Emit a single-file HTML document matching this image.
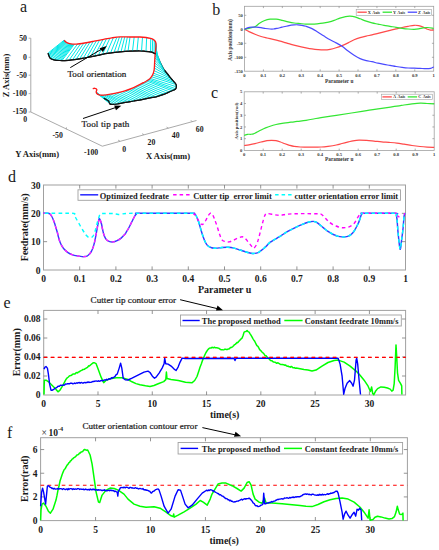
<!DOCTYPE html><html><head><meta charset="utf-8"><style>html,body{margin:0;padding:0;background:#fff;}svg{display:block;}</style></head><body>
<svg width="439" height="550" viewBox="0 0 439 550" style="font-family:'Liberation Serif',serif">
<rect width="439" height="550" fill="#fff"/>
<text x="20" y="12" font-size="16" font-weight="normal" text-anchor="start" fill="#1a1a1a" >a</text>
<polyline points="30.8,38.2 30.8,112 102.3,146.2 196.5,120.5" fill="none" stroke="#a0a0a0" stroke-width="0.9"/>
<line x1="30.8" y1="38.2" x2="28.6" y2="38.2" stroke="#a0a0a0" stroke-width="0.8"/>
<line x1="30.8" y1="57.3" x2="28.6" y2="57.3" stroke="#a0a0a0" stroke-width="0.8"/>
<line x1="30.8" y1="75.2" x2="28.6" y2="75.2" stroke="#a0a0a0" stroke-width="0.8"/>
<line x1="30.8" y1="93.6" x2="28.6" y2="93.6" stroke="#a0a0a0" stroke-width="0.8"/>
<line x1="30.8" y1="112" x2="28.6" y2="112" stroke="#a0a0a0" stroke-width="0.8"/>
<line x1="66.4" y1="129.3" x2="66.4" y2="127.30000000000001" stroke="#a0a0a0" stroke-width="0.8"/>
<line x1="120" y1="141.1" x2="118" y2="140.1" stroke="#a0a0a0" stroke-width="0.8"/>
<line x1="144" y1="134.7" x2="142" y2="133.7" stroke="#a0a0a0" stroke-width="0.8"/>
<line x1="168.5" y1="128.1" x2="166.5" y2="127.1" stroke="#a0a0a0" stroke-width="0.8"/>
<line x1="192.7" y1="121.6" x2="190.7" y2="120.6" stroke="#a0a0a0" stroke-width="0.8"/>
<text x="27" y="41" font-size="7.8" font-weight="bold" text-anchor="end" fill="#1a1a1a" >50</text>
<text x="27" y="60" font-size="7.8" font-weight="bold" text-anchor="end" fill="#1a1a1a" >0</text>
<text x="27" y="77.6" font-size="7.8" font-weight="bold" text-anchor="end" fill="#1a1a1a" >-50</text>
<text x="27" y="96.2" font-size="7.8" font-weight="bold" text-anchor="end" fill="#1a1a1a" >-100</text>
<text x="27" y="114" font-size="7.8" font-weight="bold" text-anchor="end" fill="#1a1a1a" >-150</text>
<text x="25.1" y="121.6" font-size="7.8" font-weight="bold" text-anchor="middle" fill="#1a1a1a" >0</text>
<text x="57.6" y="138.4" font-size="7.8" font-weight="bold" text-anchor="middle" fill="#1a1a1a" >-50</text>
<text x="91.1" y="154.9" font-size="7.8" font-weight="bold" text-anchor="middle" fill="#1a1a1a" >-100</text>
<text x="124.3" y="151.6" font-size="7.8" font-weight="bold" text-anchor="middle" fill="#1a1a1a" >0</text>
<text x="151.4" y="144.9" font-size="7.8" font-weight="bold" text-anchor="middle" fill="#1a1a1a" >20</text>
<text x="175.7" y="138.4" font-size="7.8" font-weight="bold" text-anchor="middle" fill="#1a1a1a" >40</text>
<text x="199.7" y="131.6" font-size="7.8" font-weight="bold" text-anchor="middle" fill="#1a1a1a" >60</text>
<text x="0" y="0" font-size="8.6" font-weight="bold" fill="#1a1a1a" text-anchor="middle" transform="translate(9.3,75.5) rotate(-90)">Z Axis(mm)</text>
<text x="37.2" y="157" font-size="8.6" font-weight="bold" text-anchor="middle" fill="#1a1a1a" >Y Axis(mm)</text>
<text x="168" y="158.6" font-size="8.6" font-weight="bold" text-anchor="middle" fill="#1a1a1a" >X Axis(mm)</text>
<path d="M48.10,53.10 C48.27,53.60 48.68,55.18 49.10,56.10 C49.52,57.02 49.77,57.97 50.60,58.60 C51.43,59.23 52.53,59.58 54.10,59.90 C55.67,60.22 57.65,60.43 60.00,60.50 C62.35,60.57 65.47,60.48 68.20,60.30 C70.93,60.12 73.67,59.78 76.40,59.40 C79.13,59.02 81.87,58.50 84.60,58.00 C87.33,57.50 90.07,56.97 92.80,56.40 C95.53,55.83 98.27,55.13 101.00,54.60 C103.73,54.07 106.03,53.65 109.20,53.20 C112.37,52.75 116.53,52.23 120.00,51.90 C123.47,51.57 126.67,51.35 130.00,51.20 C133.33,51.05 137.50,50.98 140.00,51.00 C142.50,51.02 143.25,51.15 145.00,51.30 C146.75,51.45 149.08,51.65 150.50,51.90 C151.92,52.15 152.65,52.45 153.50,52.80 C154.35,53.15 154.97,53.47 155.60,54.00 C156.23,54.53 156.75,55.12 157.30,56.00 C157.85,56.88 158.37,58.13 158.90,59.30 C159.43,60.47 159.95,61.83 160.50,63.00 C161.05,64.17 161.52,65.07 162.20,66.30 C162.88,67.53 163.65,69.03 164.60,70.40 C165.55,71.77 166.80,73.13 167.90,74.50 C169.00,75.87 170.18,77.38 171.20,78.60 C172.22,79.82 173.22,80.85 174.00,81.80 C174.78,82.75 175.50,83.48 175.90,84.30 C176.30,85.12 176.47,85.92 176.40,86.70 C176.33,87.48 176.23,88.32 175.50,89.00 C174.77,89.68 173.42,90.13 172.00,90.80 C170.58,91.47 168.40,92.40 167.00,93.00 C165.60,93.60 165.43,93.77 163.60,94.40 C161.77,95.03 158.27,96.23 156.00,96.80 C153.73,97.37 152.35,97.33 150.00,97.80 C147.65,98.27 144.62,99.07 141.90,99.60 C139.18,100.13 136.43,100.55 133.70,101.00 C130.97,101.45 128.23,101.80 125.50,102.30 C122.77,102.80 119.57,103.65 117.30,104.00 C115.03,104.35 113.15,104.45 111.90,104.40 C110.65,104.35 110.37,104.27 109.80,103.70 C109.23,103.13 109.07,101.68 108.50,101.00 C107.93,100.32 107.20,100.07 106.40,99.60 C105.60,99.13 104.15,98.43 103.70,98.20" fill="none" stroke="#111" stroke-width="1.25" stroke-linejoin="round"/>
<path d="M48.10,53.10L64.10,40.20 M48.42,54.06L64.55,40.60 M48.74,55.02L65.00,41.00 M49.06,55.98L65.45,41.40 M49.56,56.86L65.90,41.80 M50.08,57.73L66.35,42.20 M50.60,58.60L66.80,42.60 M51.81,59.05L67.64,42.87 M53.03,59.50L68.47,43.13 M54.25,59.92L69.31,43.40 M55.54,60.05L70.15,43.66 M56.83,60.18L70.99,43.90 M58.12,60.31L71.87,43.94 M59.41,60.44L72.74,43.97 M60.70,60.48L73.62,44.00 M62.00,60.45L74.50,44.03 M65.52,60.37L77.63,43.93 M69.04,60.21L80.75,43.52 M72.54,59.82L83.87,43.10 M76.04,59.44L86.97,42.56 M79.64,58.85L90.12,41.97 M83.24,58.23L93.27,41.38 M86.83,57.56L96.41,40.76 M90.42,56.87L99.55,40.13 M94.43,56.04L103.00,39.44 M98.43,55.16L106.46,38.80 M102.45,54.35L109.92,38.16 M106.48,53.66L113.40,37.63 M110.53,53.04L116.89,37.25 M114.02,52.62L119.50,36.96 M117.51,52.20L122.12,36.92 M121.00,51.83L124.75,36.95 M124.50,51.59L127.37,36.97 M128.00,51.34L130.00,37.00 M132.51,51.15L134.17,37.00 M137.01,51.06L138.34,37.00 M141.52,51.09L142.50,37.21 M146.02,51.41L146.65,37.63 M150.50,51.90L150.72,38.49 M152.27,52.43L152.65,39.26 M153.99,53.08L154.34,40.40 M155.60,54.00L155.51,42.03 M156.17,54.67L155.89,43.32 M156.73,55.33L156.00,44.65 M157.30,56.00L156.00,46.00 M158.31,58.09L155.82,47.95 M159.29,60.20L155.62,49.90 M160.21,62.33L155.40,51.85 M161.23,64.41L155.22,53.80 M162.30,66.47L155.07,55.76 M163.47,68.47L154.92,57.71 M164.85,70.71L154.77,60.29 M166.49,72.75L154.61,62.87 M168.14,74.80L154.45,65.45 M169.78,76.84L154.29,68.03 M171.44,78.88L153.90,70.57 M173.17,80.85L153.20,73.06 M174.63,82.63L152.47,74.97 M175.94,84.51L151.27,76.66 M176.37,86.77L150.07,78.35 M175.60,88.73L148.96,79.28 M173.88,89.83L147.78,80.14 M172.00,90.80L146.60,81.00 M169.39,91.95L144.71,82.09 M166.78,93.09L142.75,83.03 M164.14,94.18L140.79,83.97 M161.44,95.08L138.85,84.96 M158.72,95.94L136.91,85.95 M156.00,96.80L134.97,86.95 M153.24,97.26L133.04,87.84 M150.48,97.72L131.04,88.58 M147.74,98.30L129.04,89.32 M145.01,98.91L127.04,90.05 M142.28,99.52L125.04,90.79 M139.49,100.01L122.23,91.57 M136.70,100.49L119.39,92.25 M133.90,100.97L116.55,92.93 M131.10,101.41L113.70,93.55 M128.30,101.86L110.82,94.05 M125.50,102.30L107.94,94.54 M122.82,102.86L106.27,94.81 M120.14,103.41L104.59,94.93 M117.46,103.97L102.91,95.05 M114.73,104.19L101.22,95.18 M112.00,104.39L99.60,94.78 M109.67,103.43L98.30,94.36 M108.54,101.08L97.22,93.66 M106.40,99.60L96.47,92.52 M105.05,98.90L96.34,92.31 M103.70,98.20L96.20,92.10" stroke="#00e8e8" stroke-width="1.0" fill="none"/>
<path d="M64.10,40.20 C64.55,40.60 65.67,41.98 66.80,42.60 C67.93,43.22 69.30,43.65 70.90,43.90 C72.50,44.15 74.12,44.25 76.40,44.10 C78.68,43.95 81.63,43.48 84.60,43.00 C87.57,42.52 91.02,41.82 94.20,41.20 C97.38,40.58 100.75,39.87 103.70,39.30 C106.65,38.73 109.18,38.20 111.90,37.80 C114.62,37.40 116.98,37.03 120.00,36.90 C123.02,36.77 126.67,36.98 130.00,37.00 C133.33,37.02 137.33,36.92 140.00,37.00 C142.67,37.08 144.25,37.27 146.00,37.50 C147.75,37.73 149.25,38.05 150.50,38.40 C151.75,38.75 152.70,39.12 153.50,39.60 C154.30,40.08 154.88,40.62 155.30,41.30 C155.72,41.98 155.88,42.92 156.00,43.70 C156.12,44.48 156.03,45.25 156.00,46.00 C155.97,46.75 155.92,47.07 155.80,48.20 C155.68,49.33 155.45,51.17 155.30,52.80 C155.15,54.43 155.00,56.57 154.90,58.00 C154.80,59.43 154.82,59.48 154.70,61.40 C154.58,63.32 154.52,67.32 154.20,69.50 C153.88,71.68 153.52,72.98 152.80,74.50 C152.08,76.02 150.93,77.52 149.90,78.60 C148.87,79.68 147.58,80.35 146.60,81.00 C145.62,81.65 144.78,82.10 144.00,82.50 C143.22,82.90 143.62,82.55 141.90,83.40 C140.18,84.25 136.65,86.32 133.70,87.60 C130.75,88.88 127.38,90.13 124.20,91.10 C121.02,92.07 117.57,92.78 114.60,93.40 C111.63,94.02 108.68,94.50 106.40,94.80 C104.12,95.10 102.38,95.32 100.90,95.20 C99.42,95.08 98.28,94.62 97.50,94.10 C96.72,93.58 96.32,92.88 96.20,92.10 C96.08,91.32 97.03,90.03 96.80,89.40 C96.57,88.77 95.48,88.42 94.80,88.30 C94.12,88.18 93.05,88.63 92.70,88.70" fill="none" stroke="#ff1a1a" stroke-width="1.35" stroke-linejoin="round"/>
<path d="M48.10,53.10 C48.27,53.60 48.68,55.18 49.10,56.10 C49.52,57.02 49.77,57.97 50.60,58.60 C51.43,59.23 52.53,59.58 54.10,59.90 C55.67,60.22 57.65,60.43 60.00,60.50 C62.35,60.57 65.47,60.48 68.20,60.30 C70.93,60.12 73.67,59.78 76.40,59.40 C79.13,59.02 81.87,58.50 84.60,58.00 C87.33,57.50 90.07,56.97 92.80,56.40 C95.53,55.83 98.27,55.13 101.00,54.60 C103.73,54.07 106.03,53.65 109.20,53.20 C112.37,52.75 116.53,52.23 120.00,51.90 C123.47,51.57 126.67,51.35 130.00,51.20 C133.33,51.05 137.50,50.98 140.00,51.00 C142.50,51.02 143.25,51.15 145.00,51.30 C146.75,51.45 149.08,51.65 150.50,51.90 C151.92,52.15 152.65,52.45 153.50,52.80 C154.35,53.15 155.25,53.80 155.60,54.00" fill="none" stroke="#111" stroke-width="1.25" stroke-linejoin="round"/>
<path d="M164.60,70.40 C165.15,71.08 166.80,73.13 167.90,74.50 C169.00,75.87 170.18,77.38 171.20,78.60 C172.22,79.82 173.22,80.85 174.00,81.80 C174.78,82.75 175.50,83.48 175.90,84.30 C176.30,85.12 176.47,85.92 176.40,86.70 C176.33,87.48 176.23,88.32 175.50,89.00 C174.77,89.68 173.42,90.13 172.00,90.80 C170.58,91.47 168.40,92.40 167.00,93.00 C165.60,93.60 165.43,93.77 163.60,94.40 C161.77,95.03 158.27,96.23 156.00,96.80 C153.73,97.37 152.35,97.33 150.00,97.80 C147.65,98.27 144.62,99.07 141.90,99.60 C139.18,100.13 136.43,100.55 133.70,101.00 C130.97,101.45 128.23,101.80 125.50,102.30 C122.77,102.80 119.57,103.65 117.30,104.00 C115.03,104.35 113.15,104.45 111.90,104.40 C110.65,104.35 110.37,104.27 109.80,103.70 C109.23,103.13 109.07,101.68 108.50,101.00 C107.93,100.32 107.20,100.07 106.40,99.60 C105.60,99.13 104.15,98.43 103.70,98.20" fill="none" stroke="#111" stroke-width="1.25" stroke-linejoin="round"/>
<text x="67.4" y="76.8" font-size="9.1" font-weight="normal" text-anchor="start" fill="#1a1a1a" textLength="59" lengthAdjust="spacing" stroke="#1a1a1a" stroke-width="0.22">Tool orientation</text>
<line x1="70.3" y1="67.6" x2="102.5" y2="48.6" stroke="#000" stroke-width="1"/>
<polygon points="106.8,46 99.5,48.2 102.8,52" fill="#000"/>
<text x="81.4" y="126.5" font-size="9.1" font-weight="normal" text-anchor="start" fill="#1a1a1a" textLength="48" lengthAdjust="spacing" stroke="#1a1a1a" stroke-width="0.22">Tool tip path</text>
<line x1="83" y1="118.5" x2="117" y2="107.1" stroke="#000" stroke-width="1"/>
<polygon points="121.3,105.7 114.2,105.4 116,110.2" fill="#000"/>
<text x="212.2" y="14.8" font-size="16" font-weight="normal" text-anchor="start" fill="#1a1a1a" >b</text>
<rect x="244.5" y="6.3" width="189.2" height="64.9" fill="none" stroke="#a0a0a0" stroke-width="0.8"/>
<line x1="263.42" y1="71.2" x2="263.42" y2="69.4" stroke="#7a7a7a" stroke-width="0.6"/>
<line x1="263.42" y1="6.3" x2="263.42" y2="8.1" stroke="#7a7a7a" stroke-width="0.6"/>
<line x1="282.34" y1="71.2" x2="282.34" y2="69.4" stroke="#7a7a7a" stroke-width="0.6"/>
<line x1="282.34" y1="6.3" x2="282.34" y2="8.1" stroke="#7a7a7a" stroke-width="0.6"/>
<line x1="301.26" y1="71.2" x2="301.26" y2="69.4" stroke="#7a7a7a" stroke-width="0.6"/>
<line x1="301.26" y1="6.3" x2="301.26" y2="8.1" stroke="#7a7a7a" stroke-width="0.6"/>
<line x1="320.18" y1="71.2" x2="320.18" y2="69.4" stroke="#7a7a7a" stroke-width="0.6"/>
<line x1="320.18" y1="6.3" x2="320.18" y2="8.1" stroke="#7a7a7a" stroke-width="0.6"/>
<line x1="339.1" y1="71.2" x2="339.1" y2="69.4" stroke="#7a7a7a" stroke-width="0.6"/>
<line x1="339.1" y1="6.3" x2="339.1" y2="8.1" stroke="#7a7a7a" stroke-width="0.6"/>
<line x1="358.02" y1="71.2" x2="358.02" y2="69.4" stroke="#7a7a7a" stroke-width="0.6"/>
<line x1="358.02" y1="6.3" x2="358.02" y2="8.1" stroke="#7a7a7a" stroke-width="0.6"/>
<line x1="376.94" y1="71.2" x2="376.94" y2="69.4" stroke="#7a7a7a" stroke-width="0.6"/>
<line x1="376.94" y1="6.3" x2="376.94" y2="8.1" stroke="#7a7a7a" stroke-width="0.6"/>
<line x1="395.86" y1="71.2" x2="395.86" y2="69.4" stroke="#7a7a7a" stroke-width="0.6"/>
<line x1="395.86" y1="6.3" x2="395.86" y2="8.1" stroke="#7a7a7a" stroke-width="0.6"/>
<line x1="414.78" y1="71.2" x2="414.78" y2="69.4" stroke="#7a7a7a" stroke-width="0.6"/>
<line x1="414.78" y1="6.3" x2="414.78" y2="8.1" stroke="#7a7a7a" stroke-width="0.6"/>
<line x1="244.5" y1="15.3" x2="246.3" y2="15.3" stroke="#7a7a7a" stroke-width="0.6"/>
<line x1="433.7" y1="15.3" x2="431.9" y2="15.3" stroke="#7a7a7a" stroke-width="0.6"/>
<line x1="244.5" y1="29.3" x2="246.3" y2="29.3" stroke="#7a7a7a" stroke-width="0.6"/>
<line x1="433.7" y1="29.3" x2="431.9" y2="29.3" stroke="#7a7a7a" stroke-width="0.6"/>
<line x1="244.5" y1="43.3" x2="246.3" y2="43.3" stroke="#7a7a7a" stroke-width="0.6"/>
<line x1="433.7" y1="43.3" x2="431.9" y2="43.3" stroke="#7a7a7a" stroke-width="0.6"/>
<line x1="244.5" y1="57.3" x2="246.3" y2="57.3" stroke="#7a7a7a" stroke-width="0.6"/>
<line x1="433.7" y1="57.3" x2="431.9" y2="57.3" stroke="#7a7a7a" stroke-width="0.6"/>
<text x="244.5" y="76.9" font-size="4.6" font-weight="bold" text-anchor="middle" fill="#333" >0</text>
<text x="263.4" y="76.9" font-size="4.6" font-weight="bold" text-anchor="middle" fill="#333" >0.1</text>
<text x="282.3" y="76.9" font-size="4.6" font-weight="bold" text-anchor="middle" fill="#333" >0.2</text>
<text x="301.3" y="76.9" font-size="4.6" font-weight="bold" text-anchor="middle" fill="#333" >0.3</text>
<text x="320.2" y="76.9" font-size="4.6" font-weight="bold" text-anchor="middle" fill="#333" >0.4</text>
<text x="339.1" y="76.9" font-size="4.6" font-weight="bold" text-anchor="middle" fill="#333" >0.5</text>
<text x="358.0" y="76.9" font-size="4.6" font-weight="bold" text-anchor="middle" fill="#333" >0.6</text>
<text x="376.9" y="76.9" font-size="4.6" font-weight="bold" text-anchor="middle" fill="#333" >0.7</text>
<text x="395.9" y="76.9" font-size="4.6" font-weight="bold" text-anchor="middle" fill="#333" >0.8</text>
<text x="414.8" y="76.9" font-size="4.6" font-weight="bold" text-anchor="middle" fill="#333" >0.9</text>
<text x="433.7" y="76.9" font-size="4.6" font-weight="bold" text-anchor="middle" fill="#333" >1</text>
<text x="242.9" y="16.9" font-size="4.6" font-weight="bold" text-anchor="end" fill="#333" >50</text>
<text x="242.9" y="30.9" font-size="4.6" font-weight="bold" text-anchor="end" fill="#333" >0</text>
<text x="242.9" y="44.9" font-size="4.6" font-weight="bold" text-anchor="end" fill="#333" >-50</text>
<text x="242.9" y="58.9" font-size="4.6" font-weight="bold" text-anchor="end" fill="#333" >-100</text>
<text x="242.9" y="72.9" font-size="4.6" font-weight="bold" text-anchor="end" fill="#333" >-150</text>
<text x="0" y="0" font-size="5.3" font-weight="bold" fill="#333" text-anchor="middle" transform="translate(231.9,40) rotate(-90)">Axis position(mm)</text>
<text x="339.2" y="83.3" font-size="5.3" font-weight="bold" text-anchor="middle" fill="#333" >Parameter u</text>
<path d="M244.50,29.30 C245.25,29.68 247.25,30.77 249.00,31.60 C250.75,32.43 252.98,33.48 255.00,34.30 C257.02,35.12 259.08,35.88 261.10,36.50 C263.12,37.12 265.10,37.52 267.10,38.00 C269.10,38.48 271.10,38.92 273.10,39.40 C275.10,39.88 277.10,40.37 279.10,40.90 C281.10,41.43 283.10,42.02 285.10,42.60 C287.10,43.18 289.10,43.85 291.10,44.40 C293.10,44.95 294.62,45.33 297.10,45.90 C299.58,46.47 303.52,47.30 306.00,47.80 C308.48,48.30 310.00,48.60 312.00,48.90 C314.00,49.20 316.00,49.43 318.00,49.60 C320.00,49.77 321.98,49.95 324.00,49.90 C326.02,49.85 328.08,49.65 330.10,49.30 C332.12,48.95 334.10,48.42 336.10,47.80 C338.10,47.18 340.10,46.42 342.10,45.60 C344.10,44.78 346.10,43.87 348.10,42.90 C350.10,41.93 352.10,40.68 354.10,39.80 C356.10,38.92 358.08,38.22 360.10,37.60 C362.12,36.98 364.22,36.55 366.20,36.10 C368.18,35.65 370.03,35.35 372.00,34.90 C373.97,34.45 376.00,33.90 378.00,33.40 C380.00,32.90 382.00,32.40 384.00,31.90 C386.00,31.40 387.98,30.90 390.00,30.40 C392.02,29.90 394.08,29.38 396.10,28.90 C398.12,28.42 400.10,27.93 402.10,27.50 C404.10,27.07 406.10,26.67 408.10,26.30 C410.10,25.93 412.35,25.42 414.10,25.30 C415.85,25.18 417.10,25.30 418.60,25.60 C420.10,25.90 421.60,26.48 423.10,27.10 C424.60,27.72 426.35,28.80 427.60,29.30 C428.85,29.80 429.58,29.97 430.60,30.10 C431.62,30.23 433.18,30.10 433.70,30.10" fill="none" stroke="#ff4a4a" stroke-width="1.2"/>
<path d="M244.50,29.30 C245.25,29.13 247.25,28.72 249.00,28.30 C250.75,27.88 253.25,27.63 255.00,26.80 C256.75,25.97 257.98,24.30 259.50,23.30 C261.02,22.30 262.33,21.48 264.10,20.80 C265.87,20.12 268.10,19.47 270.10,19.20 C272.10,18.93 274.10,19.02 276.10,19.20 C278.10,19.38 280.10,19.87 282.10,20.30 C284.10,20.73 286.10,21.35 288.10,21.80 C290.10,22.25 292.12,22.70 294.10,23.00 C296.08,23.30 298.07,23.42 300.00,23.60 C301.93,23.78 303.80,24.02 305.70,24.10 C307.60,24.18 309.50,24.15 311.40,24.10 C313.30,24.05 315.20,23.95 317.10,23.80 C319.00,23.65 320.90,23.48 322.80,23.20 C324.70,22.92 326.60,22.57 328.50,22.10 C330.40,21.63 332.30,21.07 334.20,20.40 C336.10,19.73 338.00,18.73 339.90,18.10 C341.80,17.47 343.92,16.92 345.60,16.60 C347.28,16.28 348.43,16.15 350.00,16.20 C351.57,16.25 353.32,16.47 355.00,16.90 C356.68,17.33 358.23,18.10 360.10,18.80 C361.97,19.50 364.22,20.42 366.20,21.10 C368.18,21.78 370.03,22.40 372.00,22.90 C373.97,23.40 376.00,23.70 378.00,24.10 C380.00,24.50 382.00,24.93 384.00,25.30 C386.00,25.67 387.98,25.95 390.00,26.30 C392.02,26.65 394.08,27.07 396.10,27.40 C398.12,27.73 400.10,28.03 402.10,28.30 C404.10,28.57 406.10,28.83 408.10,29.00 C410.10,29.17 412.35,29.32 414.10,29.30 C415.85,29.28 417.10,29.15 418.60,28.90 C420.10,28.65 421.60,28.03 423.10,27.80 C424.60,27.57 425.83,27.42 427.60,27.50 C429.37,27.58 432.68,28.17 433.70,28.30" fill="none" stroke="#33e633" stroke-width="1.2"/>
<path d="M244.50,29.30 C245.00,29.05 246.25,28.15 247.50,27.80 C248.75,27.45 250.50,27.30 252.00,27.20 C253.50,27.10 255.00,27.12 256.50,27.20 C258.00,27.28 259.50,27.48 261.00,27.70 C262.50,27.92 264.00,28.28 265.50,28.50 C267.00,28.72 268.67,28.92 270.00,29.00 C271.33,29.08 272.33,29.10 273.50,29.00 C274.67,28.90 275.58,28.70 277.00,28.40 C278.42,28.10 280.17,27.63 282.00,27.20 C283.83,26.77 286.00,26.18 288.00,25.80 C290.00,25.42 292.33,25.07 294.00,24.90 C295.67,24.73 296.67,24.73 298.00,24.80 C299.33,24.87 300.67,25.05 302.00,25.30 C303.33,25.55 304.33,25.75 306.00,26.30 C307.67,26.85 310.00,27.60 312.00,28.60 C314.00,29.60 316.00,31.05 318.00,32.30 C320.00,33.55 321.98,34.85 324.00,36.10 C326.02,37.35 328.08,38.67 330.10,39.80 C332.12,40.93 334.10,41.82 336.10,42.90 C338.10,43.98 340.10,44.93 342.10,46.30 C344.10,47.67 346.10,49.60 348.10,51.10 C350.10,52.60 352.10,54.05 354.10,55.30 C356.10,56.55 358.08,57.72 360.10,58.60 C362.12,59.48 364.22,60.08 366.20,60.60 C368.18,61.12 370.03,61.27 372.00,61.70 C373.97,62.13 376.00,62.75 378.00,63.20 C380.00,63.65 382.00,64.03 384.00,64.40 C386.00,64.77 387.98,65.05 390.00,65.40 C392.02,65.75 394.08,66.17 396.10,66.50 C398.12,66.83 400.10,67.15 402.10,67.40 C404.10,67.65 406.10,67.88 408.10,68.00 C410.10,68.12 412.10,68.03 414.10,68.10 C416.10,68.17 418.10,68.30 420.10,68.40 C422.10,68.50 424.35,68.70 426.10,68.70 C427.85,68.70 429.33,68.70 430.60,68.40 C431.87,68.10 433.18,67.15 433.70,66.90" fill="none" stroke="#4a4aff" stroke-width="1.2"/>
<rect x="356.2" y="9.3" width="75.2" height="6.2" fill="#fff" stroke="#a0a0a0" stroke-width="0.6"/>
<line x1="357.4" y1="12.2" x2="366.79999999999995" y2="12.2" stroke="#ff4a4a" stroke-width="1.3"/>
<text x="367.7" y="13.8" font-size="4.3" font-weight="bold" text-anchor="start" fill="#333" xml:space="preserve" textLength="12.2" lengthAdjust="spacing">X  Axis</text>
<line x1="382.6" y1="12.2" x2="392.0" y2="12.2" stroke="#33e633" stroke-width="1.3"/>
<text x="392.90000000000003" y="13.8" font-size="4.3" font-weight="bold" text-anchor="start" fill="#333" xml:space="preserve" textLength="12.2" lengthAdjust="spacing">Y  Axis</text>
<line x1="407.7" y1="12.2" x2="417.09999999999997" y2="12.2" stroke="#4a4aff" stroke-width="1.3"/>
<text x="418.0" y="13.8" font-size="4.3" font-weight="bold" text-anchor="start" fill="#333" xml:space="preserve" textLength="12.2" lengthAdjust="spacing">Z  Axis</text>
<text x="211" y="97.9" font-size="16" font-weight="normal" text-anchor="start" fill="#1a1a1a" >c</text>
<rect x="244.2" y="91.8" width="190.0" height="58.60000000000001" fill="none" stroke="#a0a0a0" stroke-width="0.8"/>
<line x1="263.2" y1="150.4" x2="263.2" y2="148.6" stroke="#7a7a7a" stroke-width="0.6"/>
<line x1="263.2" y1="91.8" x2="263.2" y2="93.6" stroke="#7a7a7a" stroke-width="0.6"/>
<line x1="282.2" y1="150.4" x2="282.2" y2="148.6" stroke="#7a7a7a" stroke-width="0.6"/>
<line x1="282.2" y1="91.8" x2="282.2" y2="93.6" stroke="#7a7a7a" stroke-width="0.6"/>
<line x1="301.2" y1="150.4" x2="301.2" y2="148.6" stroke="#7a7a7a" stroke-width="0.6"/>
<line x1="301.2" y1="91.8" x2="301.2" y2="93.6" stroke="#7a7a7a" stroke-width="0.6"/>
<line x1="320.2" y1="150.4" x2="320.2" y2="148.6" stroke="#7a7a7a" stroke-width="0.6"/>
<line x1="320.2" y1="91.8" x2="320.2" y2="93.6" stroke="#7a7a7a" stroke-width="0.6"/>
<line x1="339.2" y1="150.4" x2="339.2" y2="148.6" stroke="#7a7a7a" stroke-width="0.6"/>
<line x1="339.2" y1="91.8" x2="339.2" y2="93.6" stroke="#7a7a7a" stroke-width="0.6"/>
<line x1="358.2" y1="150.4" x2="358.2" y2="148.6" stroke="#7a7a7a" stroke-width="0.6"/>
<line x1="358.2" y1="91.8" x2="358.2" y2="93.6" stroke="#7a7a7a" stroke-width="0.6"/>
<line x1="377.2" y1="150.4" x2="377.2" y2="148.6" stroke="#7a7a7a" stroke-width="0.6"/>
<line x1="377.2" y1="91.8" x2="377.2" y2="93.6" stroke="#7a7a7a" stroke-width="0.6"/>
<line x1="396.2" y1="150.4" x2="396.2" y2="148.6" stroke="#7a7a7a" stroke-width="0.6"/>
<line x1="396.2" y1="91.8" x2="396.2" y2="93.6" stroke="#7a7a7a" stroke-width="0.6"/>
<line x1="415.2" y1="150.4" x2="415.2" y2="148.6" stroke="#7a7a7a" stroke-width="0.6"/>
<line x1="415.2" y1="91.8" x2="415.2" y2="93.6" stroke="#7a7a7a" stroke-width="0.6"/>
<line x1="244.2" y1="138.68" x2="246.0" y2="138.68" stroke="#7a7a7a" stroke-width="0.6"/>
<line x1="434.2" y1="138.68" x2="432.4" y2="138.68" stroke="#7a7a7a" stroke-width="0.6"/>
<line x1="244.2" y1="126.96000000000001" x2="246.0" y2="126.96000000000001" stroke="#7a7a7a" stroke-width="0.6"/>
<line x1="434.2" y1="126.96000000000001" x2="432.4" y2="126.96000000000001" stroke="#7a7a7a" stroke-width="0.6"/>
<line x1="244.2" y1="115.24000000000001" x2="246.0" y2="115.24000000000001" stroke="#7a7a7a" stroke-width="0.6"/>
<line x1="434.2" y1="115.24000000000001" x2="432.4" y2="115.24000000000001" stroke="#7a7a7a" stroke-width="0.6"/>
<line x1="244.2" y1="103.52000000000001" x2="246.0" y2="103.52000000000001" stroke="#7a7a7a" stroke-width="0.6"/>
<line x1="434.2" y1="103.52000000000001" x2="432.4" y2="103.52000000000001" stroke="#7a7a7a" stroke-width="0.6"/>
<text x="244.2" y="156.2" font-size="4.6" font-weight="bold" text-anchor="middle" fill="#333" >0</text>
<text x="263.2" y="156.2" font-size="4.6" font-weight="bold" text-anchor="middle" fill="#333" >0.1</text>
<text x="282.2" y="156.2" font-size="4.6" font-weight="bold" text-anchor="middle" fill="#333" >0.2</text>
<text x="301.2" y="156.2" font-size="4.6" font-weight="bold" text-anchor="middle" fill="#333" >0.3</text>
<text x="320.2" y="156.2" font-size="4.6" font-weight="bold" text-anchor="middle" fill="#333" >0.4</text>
<text x="339.2" y="156.2" font-size="4.6" font-weight="bold" text-anchor="middle" fill="#333" >0.5</text>
<text x="358.2" y="156.2" font-size="4.6" font-weight="bold" text-anchor="middle" fill="#333" >0.6</text>
<text x="377.2" y="156.2" font-size="4.6" font-weight="bold" text-anchor="middle" fill="#333" >0.7</text>
<text x="396.2" y="156.2" font-size="4.6" font-weight="bold" text-anchor="middle" fill="#333" >0.8</text>
<text x="415.2" y="156.2" font-size="4.6" font-weight="bold" text-anchor="middle" fill="#333" >0.9</text>
<text x="434.2" y="156.2" font-size="4.6" font-weight="bold" text-anchor="middle" fill="#333" >1</text>
<text x="242.4" y="152.0" font-size="4.6" font-weight="bold" text-anchor="end" fill="#333" >0</text>
<text x="242.4" y="140.3" font-size="4.6" font-weight="bold" text-anchor="end" fill="#333" >1</text>
<text x="242.4" y="128.6" font-size="4.6" font-weight="bold" text-anchor="end" fill="#333" >2</text>
<text x="242.4" y="116.8" font-size="4.6" font-weight="bold" text-anchor="end" fill="#333" >3</text>
<text x="242.4" y="105.1" font-size="4.6" font-weight="bold" text-anchor="end" fill="#333" >4</text>
<text x="242.4" y="93.4" font-size="4.6" font-weight="bold" text-anchor="end" fill="#333" >5</text>
<text x="0" y="0" font-size="4.8" font-weight="bold" fill="#333" text-anchor="middle" transform="translate(237.7,121) rotate(-90)">Axis position(rad)</text>
<text x="339.2" y="160.9" font-size="5.3" font-weight="bold" text-anchor="middle" fill="#333" >Parameter u</text>
<path d="M244.20,145.50 C245.00,145.38 247.20,145.12 249.00,144.80 C250.80,144.48 252.98,144.07 255.00,143.60 C257.02,143.13 259.10,142.48 261.10,142.00 C263.10,141.52 265.25,140.98 267.00,140.70 C268.75,140.42 270.10,140.30 271.60,140.30 C273.10,140.30 274.52,140.42 276.00,140.70 C277.48,140.98 279.00,141.48 280.50,142.00 C282.00,142.52 283.50,143.25 285.00,143.80 C286.50,144.35 287.98,144.87 289.50,145.30 C291.02,145.73 292.32,146.12 294.10,146.40 C295.88,146.68 298.22,146.88 300.20,147.00 C302.18,147.12 303.87,147.07 306.00,147.10 C308.13,147.13 310.48,147.22 313.00,147.20 C315.52,147.18 318.60,147.15 321.10,147.00 C323.60,146.85 325.47,146.63 328.00,146.30 C330.53,145.97 333.97,145.47 336.30,145.00 C338.63,144.53 339.98,144.02 342.00,143.50 C344.02,142.98 346.57,142.35 348.40,141.90 C350.23,141.45 351.23,141.10 353.00,140.80 C354.77,140.50 356.73,140.17 359.00,140.10 C361.27,140.03 364.10,140.23 366.60,140.40 C369.10,140.57 371.48,140.85 374.00,141.10 C376.52,141.35 379.20,141.68 381.70,141.90 C384.20,142.12 386.47,142.20 389.00,142.40 C391.53,142.60 394.40,142.80 396.90,143.10 C399.40,143.40 401.48,143.80 404.00,144.20 C406.52,144.60 409.33,145.12 412.00,145.50 C414.67,145.88 417.47,146.23 420.00,146.50 C422.53,146.77 424.83,146.95 427.20,147.10 C429.57,147.25 433.03,147.35 434.20,147.40" fill="none" stroke="#ff4a4a" stroke-width="1.2"/>
<path d="M244.20,135.40 C244.75,135.22 246.45,134.48 247.50,134.30 C248.55,134.12 249.50,134.37 250.50,134.30 C251.50,134.23 252.50,134.22 253.50,133.90 C254.50,133.58 255.23,133.05 256.50,132.40 C257.77,131.75 259.58,130.75 261.10,130.00 C262.62,129.25 264.10,128.53 265.60,127.90 C267.10,127.27 268.35,126.77 270.10,126.20 C271.85,125.63 274.10,124.98 276.10,124.50 C278.10,124.02 280.10,123.62 282.10,123.30 C284.10,122.98 286.10,122.85 288.10,122.60 C290.10,122.35 292.08,122.05 294.10,121.80 C296.12,121.55 298.22,121.35 300.20,121.10 C302.18,120.85 303.78,120.65 306.00,120.30 C308.22,119.95 311.00,119.45 313.50,119.00 C316.00,118.55 317.20,118.22 321.00,117.60 C324.80,116.98 331.22,116.07 336.30,115.30 C341.38,114.53 346.45,113.77 351.50,113.00 C356.55,112.23 361.57,111.48 366.60,110.70 C371.63,109.92 376.65,109.05 381.70,108.30 C386.75,107.55 393.18,106.75 396.90,106.20 C400.62,105.65 401.48,105.40 404.00,105.00 C406.52,104.60 409.83,104.08 412.00,103.80 C414.17,103.52 415.48,103.40 417.00,103.30 C418.52,103.20 419.43,103.17 421.10,103.20 C422.77,103.23 424.82,103.38 427.00,103.50 C429.18,103.62 433.00,103.83 434.20,103.90" fill="none" stroke="#33e633" stroke-width="1.2"/>
<rect x="381.3" y="94.2" width="51.2" height="5.4" fill="#fff" stroke="#a0a0a0" stroke-width="0.6"/>
<line x1="382.4" y1="96.9" x2="391.79999999999995" y2="96.9" stroke="#ff4a4a" stroke-width="1.3"/>
<text x="392.9" y="98.4" font-size="4.3" font-weight="bold" text-anchor="start" fill="#333" xml:space="preserve" textLength="12.4" lengthAdjust="spacing">A  Axis</text>
<line x1="407.7" y1="96.9" x2="417.09999999999997" y2="96.9" stroke="#33e633" stroke-width="1.3"/>
<text x="418.2" y="98.4" font-size="4.3" font-weight="bold" text-anchor="start" fill="#333" xml:space="preserve" textLength="12.4" lengthAdjust="spacing">C  Axis</text>
<text x="8" y="182.4" font-size="16" font-weight="normal" text-anchor="start" fill="#1a1a1a" >d</text>
<rect x="43.5" y="185" width="362.0" height="85" fill="none" stroke="#a0a0a0" stroke-width="1"/>
<line x1="79.7" y1="270" x2="79.7" y2="266.4" stroke="#7a7a7a" stroke-width="0.8"/>
<line x1="79.7" y1="185" x2="79.7" y2="188.6" stroke="#7a7a7a" stroke-width="0.8"/>
<line x1="115.9" y1="270" x2="115.9" y2="266.4" stroke="#7a7a7a" stroke-width="0.8"/>
<line x1="115.9" y1="185" x2="115.9" y2="188.6" stroke="#7a7a7a" stroke-width="0.8"/>
<line x1="152.1" y1="270" x2="152.1" y2="266.4" stroke="#7a7a7a" stroke-width="0.8"/>
<line x1="152.1" y1="185" x2="152.1" y2="188.6" stroke="#7a7a7a" stroke-width="0.8"/>
<line x1="188.3" y1="270" x2="188.3" y2="266.4" stroke="#7a7a7a" stroke-width="0.8"/>
<line x1="188.3" y1="185" x2="188.3" y2="188.6" stroke="#7a7a7a" stroke-width="0.8"/>
<line x1="224.5" y1="270" x2="224.5" y2="266.4" stroke="#7a7a7a" stroke-width="0.8"/>
<line x1="224.5" y1="185" x2="224.5" y2="188.6" stroke="#7a7a7a" stroke-width="0.8"/>
<line x1="260.7" y1="270" x2="260.7" y2="266.4" stroke="#7a7a7a" stroke-width="0.8"/>
<line x1="260.7" y1="185" x2="260.7" y2="188.6" stroke="#7a7a7a" stroke-width="0.8"/>
<line x1="296.9" y1="270" x2="296.9" y2="266.4" stroke="#7a7a7a" stroke-width="0.8"/>
<line x1="296.9" y1="185" x2="296.9" y2="188.6" stroke="#7a7a7a" stroke-width="0.8"/>
<line x1="333.1" y1="270" x2="333.1" y2="266.4" stroke="#7a7a7a" stroke-width="0.8"/>
<line x1="333.1" y1="185" x2="333.1" y2="188.6" stroke="#7a7a7a" stroke-width="0.8"/>
<line x1="369.3" y1="270" x2="369.3" y2="266.4" stroke="#7a7a7a" stroke-width="0.8"/>
<line x1="369.3" y1="185" x2="369.3" y2="188.6" stroke="#7a7a7a" stroke-width="0.8"/>
<line x1="43.5" y1="241.66666666666666" x2="47.1" y2="241.66666666666666" stroke="#7a7a7a" stroke-width="0.8"/>
<line x1="405.5" y1="241.66666666666666" x2="401.9" y2="241.66666666666666" stroke="#7a7a7a" stroke-width="0.8"/>
<line x1="43.5" y1="213.33333333333334" x2="47.1" y2="213.33333333333334" stroke="#7a7a7a" stroke-width="0.8"/>
<line x1="405.5" y1="213.33333333333334" x2="401.9" y2="213.33333333333334" stroke="#7a7a7a" stroke-width="0.8"/>
<text x="43.5" y="282.1" font-size="9.5" font-weight="bold" text-anchor="middle" fill="#1a1a1a" >0</text>
<text x="79.7" y="282.1" font-size="9.5" font-weight="bold" text-anchor="middle" fill="#1a1a1a" >0.1</text>
<text x="115.9" y="282.1" font-size="9.5" font-weight="bold" text-anchor="middle" fill="#1a1a1a" >0.2</text>
<text x="152.1" y="282.1" font-size="9.5" font-weight="bold" text-anchor="middle" fill="#1a1a1a" >0.3</text>
<text x="188.3" y="282.1" font-size="9.5" font-weight="bold" text-anchor="middle" fill="#1a1a1a" >0.4</text>
<text x="224.5" y="282.1" font-size="9.5" font-weight="bold" text-anchor="middle" fill="#1a1a1a" >0.5</text>
<text x="260.7" y="282.1" font-size="9.5" font-weight="bold" text-anchor="middle" fill="#1a1a1a" >0.6</text>
<text x="296.9" y="282.1" font-size="9.5" font-weight="bold" text-anchor="middle" fill="#1a1a1a" >0.7</text>
<text x="333.1" y="282.1" font-size="9.5" font-weight="bold" text-anchor="middle" fill="#1a1a1a" >0.8</text>
<text x="369.3" y="282.1" font-size="9.5" font-weight="bold" text-anchor="middle" fill="#1a1a1a" >0.9</text>
<text x="405.5" y="282.1" font-size="9.5" font-weight="bold" text-anchor="middle" fill="#1a1a1a" >1</text>
<text x="40.6" y="273.7" font-size="9.5" font-weight="bold" text-anchor="end" fill="#1a1a1a" >0</text>
<text x="40.6" y="245.4" font-size="9.5" font-weight="bold" text-anchor="end" fill="#1a1a1a" >10</text>
<text x="40.6" y="217.0" font-size="9.5" font-weight="bold" text-anchor="end" fill="#1a1a1a" >20</text>
<text x="40.6" y="188.7" font-size="9.5" font-weight="bold" text-anchor="end" fill="#1a1a1a" >30</text>
<text x="0" y="0" font-size="10" font-weight="bold" fill="#1a1a1a" text-anchor="middle" transform="translate(28.3,227.3) rotate(-90)">Feedrate(mm/s)</text>
<text x="224.7" y="293.3" font-size="10" font-weight="bold" text-anchor="middle" fill="#1a1a1a" >Parameter u</text>
<path d="M43.40,213.30 C44.17,213.30 46.90,213.18 48.00,213.30 C49.10,213.42 49.42,213.55 50.00,214.00 C50.58,214.45 51.00,215.17 51.50,216.00 C52.00,216.83 52.50,217.83 53.00,219.00 C53.50,220.17 54.00,221.50 54.50,223.00 C55.00,224.50 55.50,226.33 56.00,228.00 C56.50,229.67 57.08,231.48 57.50,233.00 C57.92,234.52 58.08,235.58 58.50,237.10 C58.92,238.62 59.42,240.60 60.00,242.10 C60.58,243.60 61.25,244.85 62.00,246.10 C62.75,247.35 63.50,248.52 64.50,249.60 C65.50,250.68 66.75,251.77 68.00,252.60 C69.25,253.43 70.48,254.05 72.00,254.60 C73.52,255.15 75.42,255.57 77.10,255.90 C78.78,256.23 80.95,256.48 82.10,256.60 C83.25,256.72 83.18,256.68 84.00,256.60 C84.82,256.52 86.08,256.52 87.00,256.10 C87.92,255.68 88.75,254.93 89.50,254.10 C90.25,253.27 90.83,252.43 91.50,251.10 C92.17,249.77 92.92,247.93 93.50,246.10 C94.08,244.27 94.50,242.43 95.00,240.10 C95.50,237.77 96.03,234.62 96.50,232.10 C96.97,229.58 97.42,227.02 97.80,225.00 C98.18,222.98 98.55,221.08 98.80,220.00 C99.05,218.92 99.07,218.50 99.30,218.50 C99.53,218.50 99.83,219.08 100.20,220.00 C100.57,220.92 101.12,222.50 101.50,224.00 C101.88,225.50 102.08,227.15 102.50,229.00 C102.92,230.85 103.42,233.42 104.00,235.10 C104.58,236.78 105.17,238.07 106.00,239.10 C106.83,240.13 107.82,240.83 109.00,241.30 C110.18,241.77 111.75,242.02 113.10,241.90 C114.45,241.78 115.77,241.23 117.10,240.60 C118.43,239.97 119.77,239.18 121.10,238.10 C122.43,237.02 124.28,235.02 125.10,234.10 C125.92,233.18 125.35,233.70 126.00,232.60 C126.65,231.50 128.00,229.35 129.00,227.50 C130.00,225.65 131.08,223.33 132.00,221.50 C132.92,219.67 133.75,217.78 134.50,216.50 C135.25,215.22 136.00,214.33 136.50,213.80 C137.00,213.27 136.92,213.38 137.50,213.30 C138.08,213.22 131.25,213.30 140.00,213.30 C148.75,213.30 181.17,213.30 190.00,213.30 C198.83,213.30 192.25,213.22 193.00,213.30 C193.75,213.38 194.00,213.43 194.50,213.80 C195.00,214.17 195.50,214.67 196.00,215.50 C196.50,216.33 196.95,217.38 197.50,218.80 C198.05,220.22 198.67,221.97 199.30,224.00 C199.93,226.03 200.62,228.75 201.30,231.00 C201.98,233.25 202.70,235.58 203.40,237.50 C204.10,239.42 204.82,241.17 205.50,242.50 C206.18,243.83 206.48,244.62 207.50,245.50 C208.52,246.38 210.18,247.33 211.60,247.80 C213.02,248.27 214.27,248.35 216.00,248.30 C217.73,248.25 220.00,247.67 222.00,247.50 C224.00,247.33 226.00,247.20 228.00,247.30 C230.00,247.40 232.00,247.65 234.00,248.10 C236.00,248.55 237.98,249.35 240.00,250.00 C242.02,250.65 244.27,251.47 246.10,252.00 C247.93,252.53 249.57,252.97 251.00,253.20 C252.43,253.43 253.53,253.50 254.70,253.40 C255.87,253.30 256.95,253.07 258.00,252.60 C259.05,252.13 260.00,251.33 261.00,250.60 C262.00,249.87 263.00,249.07 264.00,248.20 C265.00,247.33 266.00,246.37 267.00,245.40 C268.00,244.43 268.75,243.37 270.00,242.40 C271.25,241.43 272.98,240.52 274.50,239.60 C276.02,238.68 277.58,237.83 279.10,236.90 C280.62,235.97 282.08,234.95 283.60,234.00 C285.12,233.05 286.68,232.07 288.20,231.20 C289.72,230.33 291.18,229.57 292.70,228.80 C294.22,228.03 295.78,227.30 297.30,226.60 C298.82,225.90 300.28,225.23 301.80,224.60 C303.32,223.97 305.03,223.27 306.40,222.80 C307.77,222.33 308.85,222.03 310.00,221.80 C311.15,221.57 312.35,221.38 313.30,221.40 C314.25,221.42 314.95,221.60 315.70,221.90 C316.45,222.20 316.92,222.55 317.80,223.20 C318.68,223.85 319.85,224.85 321.00,225.80 C322.15,226.75 323.53,227.97 324.70,228.90 C325.87,229.83 326.87,230.63 328.00,231.40 C329.13,232.17 330.33,232.87 331.50,233.50 C332.67,234.13 333.87,234.72 335.00,235.20 C336.13,235.68 337.13,236.12 338.30,236.40 C339.47,236.68 340.85,236.82 342.00,236.90 C343.15,236.98 344.15,237.03 345.20,236.90 C346.25,236.77 347.35,236.48 348.30,236.10 C349.25,235.72 350.07,235.25 350.90,234.60 C351.73,233.95 352.55,233.15 353.30,232.20 C354.05,231.25 354.75,230.02 355.40,228.90 C356.05,227.78 356.63,226.63 357.20,225.50 C357.77,224.37 358.32,223.27 358.80,222.10 C359.28,220.93 359.72,219.63 360.10,218.50 C360.48,217.37 360.73,216.15 361.10,215.30 C361.47,214.45 361.82,213.73 362.30,213.40 C362.78,213.07 358.55,213.32 364.00,213.30 C369.45,213.28 389.62,213.00 395.00,213.30 C400.38,213.60 395.95,213.97 396.30,215.10 C396.65,216.23 396.80,217.12 397.10,220.10 C397.40,223.08 397.60,228.17 398.10,233.00 C398.60,237.83 399.52,247.93 400.10,249.10 C400.68,250.27 401.10,243.52 401.60,240.00 C402.10,236.48 402.68,232.00 403.10,228.00 C403.52,224.00 403.73,218.45 404.10,216.00 C404.47,213.55 405.10,213.75 405.30,213.30" fill="none" stroke="#3838ff" stroke-width="1.45" stroke-linejoin="round"/>
<path d="M43.40,213.30 C44.17,213.30 46.90,213.18 48.00,213.30 C49.10,213.42 49.42,213.55 50.00,214.00 C50.58,214.45 51.00,215.17 51.50,216.00 C52.00,216.83 52.50,217.83 53.00,219.00 C53.50,220.17 54.00,221.50 54.50,223.00 C55.00,224.50 55.50,226.33 56.00,228.00 C56.50,229.67 57.08,231.48 57.50,233.00 C57.92,234.52 58.08,235.58 58.50,237.10 C58.92,238.62 59.42,240.60 60.00,242.10 C60.58,243.60 61.25,244.85 62.00,246.10 C62.75,247.35 63.50,248.52 64.50,249.60 C65.50,250.68 66.75,251.77 68.00,252.60 C69.25,253.43 70.48,254.05 72.00,254.60 C73.52,255.15 75.42,255.57 77.10,255.90 C78.78,256.23 80.95,256.48 82.10,256.60 C83.25,256.72 83.18,256.68 84.00,256.60 C84.82,256.52 86.08,256.52 87.00,256.10 C87.92,255.68 88.75,254.93 89.50,254.10 C90.25,253.27 90.83,252.43 91.50,251.10 C92.17,249.77 92.92,247.93 93.50,246.10 C94.08,244.27 94.50,242.43 95.00,240.10 C95.50,237.77 96.03,234.62 96.50,232.10 C96.97,229.58 97.42,227.02 97.80,225.00 C98.18,222.98 98.55,221.08 98.80,220.00 C99.05,218.92 99.07,218.50 99.30,218.50 C99.53,218.50 99.83,219.08 100.20,220.00 C100.57,220.92 101.12,222.50 101.50,224.00 C101.88,225.50 102.08,227.15 102.50,229.00 C102.92,230.85 103.42,233.42 104.00,235.10 C104.58,236.78 105.17,238.07 106.00,239.10 C106.83,240.13 107.82,240.83 109.00,241.30 C110.18,241.77 111.75,242.02 113.10,241.90 C114.45,241.78 115.77,241.23 117.10,240.60 C118.43,239.97 119.77,239.18 121.10,238.10 C122.43,237.02 124.28,235.02 125.10,234.10 C125.92,233.18 125.35,233.70 126.00,232.60 C126.65,231.50 128.00,229.35 129.00,227.50 C130.00,225.65 131.08,223.33 132.00,221.50 C132.92,219.67 133.75,217.78 134.50,216.50 C135.25,215.22 136.00,214.33 136.50,213.80 C137.00,213.27 136.92,213.38 137.50,213.30 C138.08,213.22 139.58,213.30 140.00,213.30" fill="none" stroke="#ff20ff" stroke-width="1.35" stroke-dasharray="3.2,3.4"/>
<path d="M193.10,213.30 C193.45,213.58 194.47,214.05 195.20,215.00 C195.93,215.95 196.78,217.75 197.50,219.00 C198.22,220.25 198.92,221.67 199.50,222.50 C200.08,223.33 200.52,223.67 201.00,224.00 C201.48,224.33 201.90,224.62 202.40,224.50 C202.90,224.38 203.40,224.05 204.00,223.30 C204.60,222.55 205.33,221.22 206.00,220.00 C206.67,218.78 207.23,217.13 208.00,216.00 C208.77,214.87 209.85,213.45 210.60,213.20 C211.35,212.95 211.85,213.53 212.50,214.50 C213.15,215.47 213.75,217.08 214.50,219.00 C215.25,220.92 216.17,223.50 217.00,226.00 C217.83,228.50 218.68,231.70 219.50,234.00 C220.32,236.30 220.98,238.55 221.90,239.80 C222.82,241.05 223.82,241.15 225.00,241.50 C226.18,241.85 227.67,242.07 229.00,241.90 C230.33,241.73 231.80,241.02 233.00,240.50 C234.20,239.98 235.03,239.33 236.20,238.80 C237.37,238.27 238.97,237.63 240.00,237.30 C241.03,236.97 241.65,236.72 242.40,236.80 C243.15,236.88 243.82,237.30 244.50,237.80 C245.18,238.30 245.83,239.02 246.50,239.80 C247.17,240.58 247.82,241.63 248.50,242.50 C249.18,243.37 249.93,244.20 250.60,245.00 C251.27,245.80 251.98,246.78 252.50,247.30 C253.02,247.82 253.17,248.32 253.70,248.10 C254.23,247.88 255.07,247.02 255.70,246.00 C256.33,244.98 256.98,243.37 257.50,242.00 C258.02,240.63 258.32,239.55 258.80,237.80 C259.28,236.05 259.88,233.55 260.40,231.50 C260.92,229.45 261.38,227.50 261.90,225.50 C262.42,223.50 262.98,221.22 263.50,219.50 C264.02,217.78 264.42,216.20 265.00,215.20 C265.58,214.20 265.42,213.57 267.00,213.50 C268.58,213.43 272.48,214.50 274.50,214.80 C276.52,215.10 277.60,215.30 279.10,215.30 C280.60,215.30 281.98,215.00 283.50,214.80 C285.02,214.60 285.90,214.28 288.20,214.10 C290.50,213.92 292.67,213.77 297.30,213.70 C301.93,213.63 312.20,213.68 316.00,213.70 C319.80,213.72 319.02,213.55 320.10,213.80 C321.18,214.05 321.73,214.58 322.50,215.20 C323.27,215.82 323.95,216.72 324.70,217.50 C325.45,218.28 326.25,219.13 327.00,219.90 C327.75,220.67 328.28,221.37 329.20,222.10 C330.12,222.83 331.35,223.65 332.50,224.30 C333.65,224.95 334.93,225.52 336.10,226.00 C337.27,226.48 338.37,226.90 339.50,227.20 C340.63,227.50 341.73,227.75 342.90,227.80 C344.07,227.85 345.37,227.70 346.50,227.50 C347.63,227.30 348.75,227.00 349.70,226.60 C350.65,226.20 351.43,225.67 352.20,225.10 C352.97,224.53 353.65,223.97 354.30,223.20 C354.95,222.43 355.53,221.45 356.10,220.50 C356.67,219.55 357.13,218.42 357.70,217.50 C358.27,216.58 358.93,215.63 359.50,215.00 C360.07,214.37 360.35,213.98 361.10,213.70 C361.85,213.42 358.35,213.37 364.00,213.30 C369.65,213.23 389.62,213.00 395.00,213.30 C400.38,213.60 395.70,214.55 396.30,215.10 C396.90,215.65 397.97,216.02 398.60,216.60 C399.23,217.18 399.85,218.27 400.10,218.60" fill="none" stroke="#ff00ff" stroke-width="1.4" stroke-dasharray="3.5,3"/>
<path d="M43.60,213.30 C48.35,213.30 67.02,213.02 72.10,213.30 C77.18,213.58 73.43,214.13 74.10,215.00 C74.77,215.87 75.43,217.33 76.10,218.50 C76.77,219.67 77.43,220.83 78.10,222.00 C78.77,223.17 79.43,224.33 80.10,225.50 C80.77,226.67 81.35,227.75 82.10,229.00 C82.85,230.25 83.95,231.98 84.60,233.00 C85.25,234.02 85.35,234.38 86.00,235.10 C86.65,235.82 87.67,236.88 88.50,237.30 C89.33,237.72 90.25,237.80 91.00,237.60 C91.75,237.40 92.42,236.85 93.00,236.10 C93.58,235.35 94.00,234.45 94.50,233.10 C95.00,231.75 95.50,229.85 96.00,228.00 C96.50,226.15 97.00,223.83 97.50,222.00 C98.00,220.17 98.58,218.25 99.00,217.00 C99.42,215.75 99.50,215.08 100.00,214.50 C100.50,213.92 100.00,213.67 102.00,213.50 C104.00,213.33 109.67,213.42 112.00,213.50 C114.33,213.58 114.82,213.83 116.00,214.00 C117.18,214.17 118.10,214.50 119.10,214.50 C120.10,214.50 120.85,214.17 122.00,214.00 C123.15,213.83 123.00,213.62 126.00,213.50 C129.00,213.38 129.33,213.33 140.00,213.30 C150.67,213.27 181.67,213.30 190.00,213.30" fill="none" stroke="#00ffff" stroke-width="1.45" stroke-dasharray="3.6,3.2" stroke-dashoffset="-1.3"/>
<path d="M190.00,213.30 C190.50,213.30 192.25,213.22 193.00,213.30 C193.75,213.38 194.00,213.43 194.50,213.80 C195.00,214.17 195.50,214.67 196.00,215.50 C196.50,216.33 196.95,217.38 197.50,218.80 C198.05,220.22 198.67,221.97 199.30,224.00 C199.93,226.03 200.62,228.75 201.30,231.00 C201.98,233.25 202.70,235.58 203.40,237.50 C204.10,239.42 204.82,241.17 205.50,242.50 C206.18,243.83 206.48,244.62 207.50,245.50 C208.52,246.38 210.18,247.33 211.60,247.80 C213.02,248.27 214.27,248.35 216.00,248.30 C217.73,248.25 220.00,247.67 222.00,247.50 C224.00,247.33 226.00,247.20 228.00,247.30 C230.00,247.40 232.00,247.65 234.00,248.10 C236.00,248.55 237.98,249.35 240.00,250.00 C242.02,250.65 244.27,251.47 246.10,252.00 C247.93,252.53 249.57,252.97 251.00,253.20 C252.43,253.43 253.53,253.50 254.70,253.40 C255.87,253.30 256.95,253.07 258.00,252.60 C259.05,252.13 260.00,251.33 261.00,250.60 C262.00,249.87 263.00,249.07 264.00,248.20 C265.00,247.33 266.00,246.37 267.00,245.40 C268.00,244.43 268.75,243.37 270.00,242.40 C271.25,241.43 272.98,240.52 274.50,239.60 C276.02,238.68 277.58,237.83 279.10,236.90 C280.62,235.97 282.08,234.95 283.60,234.00 C285.12,233.05 286.68,232.07 288.20,231.20 C289.72,230.33 291.18,229.57 292.70,228.80 C294.22,228.03 295.78,227.30 297.30,226.60 C298.82,225.90 300.28,225.23 301.80,224.60 C303.32,223.97 305.03,223.27 306.40,222.80 C307.77,222.33 308.85,222.03 310.00,221.80 C311.15,221.57 312.35,221.38 313.30,221.40 C314.25,221.42 314.95,221.60 315.70,221.90 C316.45,222.20 316.92,222.55 317.80,223.20 C318.68,223.85 319.85,224.85 321.00,225.80 C322.15,226.75 323.53,227.97 324.70,228.90 C325.87,229.83 326.87,230.63 328.00,231.40 C329.13,232.17 330.33,232.87 331.50,233.50 C332.67,234.13 333.87,234.72 335.00,235.20 C336.13,235.68 337.13,236.12 338.30,236.40 C339.47,236.68 340.85,236.82 342.00,236.90 C343.15,236.98 344.15,237.03 345.20,236.90 C346.25,236.77 347.35,236.48 348.30,236.10 C349.25,235.72 350.07,235.25 350.90,234.60 C351.73,233.95 352.55,233.15 353.30,232.20 C354.05,231.25 354.75,230.02 355.40,228.90 C356.05,227.78 356.63,226.63 357.20,225.50 C357.77,224.37 358.32,223.27 358.80,222.10 C359.28,220.93 359.72,219.63 360.10,218.50 C360.48,217.37 360.73,216.15 361.10,215.30 C361.47,214.45 361.82,213.73 362.30,213.40 C362.78,213.07 358.55,213.32 364.00,213.30 C369.45,213.28 389.62,213.00 395.00,213.30 C400.38,213.60 395.95,213.97 396.30,215.10 C396.65,216.23 396.80,217.12 397.10,220.10 C397.40,223.08 397.60,228.17 398.10,233.00 C398.60,237.83 399.52,247.93 400.10,249.10 C400.68,250.27 401.10,243.52 401.60,240.00 C402.10,236.48 402.68,232.00 403.10,228.00 C403.52,224.00 403.73,218.45 404.10,216.00 C404.47,213.55 405.10,213.75 405.30,213.30" fill="none" stroke="#00ffff" stroke-width="1.45" stroke-dasharray="3.5,3"/>
<path d="M404.1,214.6 L405,213.1" stroke="#ff00ff" stroke-width="1.4"/>
<rect x="78" y="189.8" width="322.5" height="10.5" fill="#fff" stroke="#a0a0a0" stroke-width="0.9"/>
<line x1="80.2" y1="194.8" x2="98.2" y2="194.8" stroke="#3333ff" stroke-width="1.6"/>
<text x="99.8" y="198.5" font-size="8.45" font-weight="bold" text-anchor="start" fill="#1a1a1a" textLength="69.3" lengthAdjust="spacingAndGlyphs">Optimized feedrate</text>
<line x1="173.1" y1="194.8" x2="190.1" y2="194.8" stroke="#ff00ff" stroke-width="1.6" stroke-dasharray="3.5,3"/>
<text x="193.2" y="198.5" font-size="8.55" font-weight="bold" text-anchor="start" fill="#1a1a1a" xml:space="preserve" textLength="78.6" lengthAdjust="spacingAndGlyphs">Cutter tip  error limit</text>
<line x1="275.1" y1="194.8" x2="293.2" y2="194.8" stroke="#00ffff" stroke-width="1.6" stroke-dasharray="3.5,3"/>
<text x="294.6" y="198.5" font-size="8.5" font-weight="bold" text-anchor="start" fill="#1a1a1a" textLength="103.6" lengthAdjust="spacingAndGlyphs">cutter orientation error limit</text>
<text x="3.4" y="307.6" font-size="16" font-weight="normal" text-anchor="start" fill="#1a1a1a" >e</text>
<rect x="43.7" y="310.4" width="361.90000000000003" height="84.60000000000002" fill="none" stroke="#a0a0a0" stroke-width="1"/>
<line x1="97.985" y1="395" x2="97.985" y2="391.4" stroke="#7a7a7a" stroke-width="0.8"/>
<line x1="97.985" y1="310.4" x2="97.985" y2="314.0" stroke="#7a7a7a" stroke-width="0.8"/>
<line x1="152.26999999999998" y1="395" x2="152.26999999999998" y2="391.4" stroke="#7a7a7a" stroke-width="0.8"/>
<line x1="152.26999999999998" y1="310.4" x2="152.26999999999998" y2="314.0" stroke="#7a7a7a" stroke-width="0.8"/>
<line x1="206.555" y1="395" x2="206.555" y2="391.4" stroke="#7a7a7a" stroke-width="0.8"/>
<line x1="206.555" y1="310.4" x2="206.555" y2="314.0" stroke="#7a7a7a" stroke-width="0.8"/>
<line x1="260.84" y1="395" x2="260.84" y2="391.4" stroke="#7a7a7a" stroke-width="0.8"/>
<line x1="260.84" y1="310.4" x2="260.84" y2="314.0" stroke="#7a7a7a" stroke-width="0.8"/>
<line x1="315.12499999999994" y1="395" x2="315.12499999999994" y2="391.4" stroke="#7a7a7a" stroke-width="0.8"/>
<line x1="315.12499999999994" y1="310.4" x2="315.12499999999994" y2="314.0" stroke="#7a7a7a" stroke-width="0.8"/>
<line x1="369.40999999999997" y1="395" x2="369.40999999999997" y2="391.4" stroke="#7a7a7a" stroke-width="0.8"/>
<line x1="369.40999999999997" y1="310.4" x2="369.40999999999997" y2="314.0" stroke="#7a7a7a" stroke-width="0.8"/>
<line x1="43.7" y1="376.0" x2="47.300000000000004" y2="376.0" stroke="#7a7a7a" stroke-width="0.8"/>
<line x1="405.6" y1="376.0" x2="402.0" y2="376.0" stroke="#7a7a7a" stroke-width="0.8"/>
<line x1="43.7" y1="357.0" x2="47.300000000000004" y2="357.0" stroke="#7a7a7a" stroke-width="0.8"/>
<line x1="405.6" y1="357.0" x2="402.0" y2="357.0" stroke="#7a7a7a" stroke-width="0.8"/>
<line x1="43.7" y1="338.0" x2="47.300000000000004" y2="338.0" stroke="#7a7a7a" stroke-width="0.8"/>
<line x1="405.6" y1="338.0" x2="402.0" y2="338.0" stroke="#7a7a7a" stroke-width="0.8"/>
<line x1="43.7" y1="319.0" x2="47.300000000000004" y2="319.0" stroke="#7a7a7a" stroke-width="0.8"/>
<line x1="405.6" y1="319.0" x2="402.0" y2="319.0" stroke="#7a7a7a" stroke-width="0.8"/>
<text x="43.7" y="407" font-size="9.5" font-weight="bold" text-anchor="middle" fill="#1a1a1a" >0</text>
<text x="98.0" y="407" font-size="9.5" font-weight="bold" text-anchor="middle" fill="#1a1a1a" >5</text>
<text x="152.3" y="407" font-size="9.5" font-weight="bold" text-anchor="middle" fill="#1a1a1a" >10</text>
<text x="206.6" y="407" font-size="9.5" font-weight="bold" text-anchor="middle" fill="#1a1a1a" >15</text>
<text x="260.8" y="407" font-size="9.5" font-weight="bold" text-anchor="middle" fill="#1a1a1a" >20</text>
<text x="315.1" y="407" font-size="9.5" font-weight="bold" text-anchor="middle" fill="#1a1a1a" >25</text>
<text x="369.4" y="407" font-size="9.5" font-weight="bold" text-anchor="middle" fill="#1a1a1a" >30</text>
<text x="40.5" y="398.3" font-size="9.5" font-weight="bold" text-anchor="end" fill="#1a1a1a" >0</text>
<text x="40.5" y="379.3" font-size="9.5" font-weight="bold" text-anchor="end" fill="#1a1a1a" >0.02</text>
<text x="40.5" y="360.3" font-size="9.5" font-weight="bold" text-anchor="end" fill="#1a1a1a" >0.04</text>
<text x="40.5" y="341.3" font-size="9.5" font-weight="bold" text-anchor="end" fill="#1a1a1a" >0.06</text>
<text x="40.5" y="322.3" font-size="9.5" font-weight="bold" text-anchor="end" fill="#1a1a1a" >0.08</text>
<text x="0" y="0" font-size="10" font-weight="bold" fill="#1a1a1a" text-anchor="middle" transform="translate(20.2,352.3) rotate(-90)">Error(mm)</text>
<text x="224.7" y="418.3" font-size="10" font-weight="bold" text-anchor="middle" fill="#1a1a1a" >time(s)</text>
<line x1="43.7" y1="357.4" x2="405.6" y2="357.4" stroke="#ff0000" stroke-width="1.15" stroke-dasharray="3.6,3.45"/>
<path d="M44.00,394.50 L44.20,385.00 L44.40,380.20 L46.00,380.20 L49.00,382.20 L52.00,385.20 L55.00,388.20 L58.00,391.80 L60.00,390.20 L63.00,385.20 L66.10,379.20 L67.10,377.94 L68.10,377.24 L69.10,376.20 L69.93,375.72 L70.77,375.60 L71.60,375.28 L72.43,374.37 L73.27,373.96 L74.10,374.10 L74.96,374.01 L75.81,373.00 L76.67,372.55 L77.53,372.88 L78.39,371.93 L79.24,371.87 L80.10,371.10 L80.96,370.65 L81.81,370.38 L82.67,369.46 L83.53,369.52 L84.39,369.33 L85.24,368.55 L86.10,368.10 L86.93,367.74 L87.77,367.07 L88.60,365.86 L89.43,365.96 L90.27,365.19 L91.10,364.50 L92.10,363.70 L93.10,362.83 L94.10,362.70 L96.10,363.70 L98.10,369.10 L101.10,377.20 L103.70,382.60 L106.10,380.20 L110.10,378.80 L116.20,377.80 L122.20,377.80 L128.00,379.50 L132.00,381.80 L136.00,383.60 L140.00,384.70 L145.50,385.80 L150.00,386.50 L154.00,385.50 L158.20,383.80 L163.70,381.60 L165.80,379.60 L166.40,372.00 L167.00,378.50 L171.00,379.40 L178.30,380.50 L185.50,382.30 L191.90,382.80 L194.70,380.50 L197.00,376.50 L199.00,370.50 L200.00,367.30 L201.30,364.00 L202.13,361.50 L202.97,359.14 L203.80,357.30 L204.90,354.80 L206.00,352.50 L207.07,350.79 L208.13,349.33 L209.20,348.40 L210.13,347.93 L211.07,348.08 L212.00,347.30 L212.80,347.68 L213.60,347.73 L214.40,347.26 L215.20,347.66 L216.00,347.70 L216.80,347.76 L217.60,347.93 L218.40,348.15 L219.20,348.53 L220.00,349.10 L220.80,349.65 L221.60,349.67 L222.40,349.77 L223.20,349.88 L224.00,349.70 L224.80,349.27 L225.60,349.27 L226.40,349.47 L227.20,349.45 L228.00,349.10 L228.80,349.05 L229.60,348.68 L230.40,347.49 L231.20,347.61 L232.00,347.10 L232.80,346.59 L233.60,345.75 L234.40,344.74 L235.20,344.35 L236.00,343.70 L236.80,342.57 L237.60,342.69 L238.40,341.91 L239.20,340.87 L240.00,340.10 L241.05,338.90 L242.10,338.10 L243.10,335.51 L244.10,332.10 L245.10,331.64 L246.10,331.42 L247.10,330.50 L248.10,331.65 L249.10,332.10 L250.10,333.78 L251.10,335.35 L252.10,337.10 L252.90,338.60 L253.70,339.83 L254.50,340.96 L255.30,342.51 L256.10,344.10 L256.90,345.61 L257.70,346.04 L258.50,347.25 L259.30,349.03 L260.10,350.10 L260.90,350.68 L261.70,351.73 L262.50,352.47 L263.30,353.14 L264.10,354.10 L265.10,355.60 L266.10,355.80 L267.10,357.10 L268.10,358.01 L269.10,358.80 L270.10,360.10 L270.90,360.63 L271.70,360.68 L272.50,361.16 L273.30,361.95 L274.10,362.10 L274.96,362.21 L275.81,362.73 L276.67,363.36 L277.53,362.84 L278.39,363.09 L279.24,363.54 L280.10,364.10 L280.90,364.57 L281.70,364.62 L282.50,364.44 L283.30,364.73 L284.10,364.78 L284.90,365.26 L285.70,365.04 L286.50,365.90 L287.30,366.30 L288.10,366.10 L288.91,366.75 L289.72,366.73 L290.53,367.16 L291.34,366.42 L292.15,366.89 L292.96,367.77 L293.77,367.78 L294.58,367.61 L295.39,368.34 L296.20,368.10 L304.00,369.60 L308.00,370.10 L312.00,371.10 L316.00,370.10 L322.00,366.10 L328.00,362.50 L334.10,360.50 L338.10,360.10 L344.10,362.10 L350.10,366.10 L356.10,371.10 L360.10,375.20 L364.10,380.20 L368.10,386.20 L370.40,391.50 L371.60,387.00 L372.70,393.50 L373.80,394.60 L375.50,391.30 L377.60,388.60 L380.90,386.90 L384.20,387.20 L387.50,388.00 L390.20,389.10 L391.80,391.10 L393.10,390.20 L394.20,383.70 L395.10,367.30 L396.00,344.90 L396.70,356.40 L397.50,372.80 L398.60,380.40 L400.60,383.70 L401.70,385.90 L401.90,394.60" fill="none" stroke="#00ff00" stroke-width="1.5" stroke-linejoin="round"/>
<path d="M44.00,369.10 L45.00,367.10 L46.00,366.50 L47.40,368.10 L48.40,374.10 L49.60,384.20 L51.00,390.20 L52.40,390.20 L53.27,389.64 L54.13,389.08 L55.00,388.20 L56.00,387.80 L57.00,387.26 L58.00,386.20 L58.80,386.22 L59.60,386.18 L60.40,385.18 L61.20,385.37 L62.00,385.20 L62.87,385.40 L63.74,384.93 L64.61,384.96 L65.49,384.05 L66.36,384.17 L67.23,383.77 L68.10,383.80 L68.90,383.78 L69.70,383.75 L70.50,383.18 L71.30,383.31 L72.10,383.30 L72.90,383.81 L73.70,383.62 L74.50,383.01 L75.30,383.53 L76.10,383.20 L76.90,382.81 L77.70,383.19 L78.50,382.68 L79.30,382.51 L80.10,383.23 L80.90,382.58 L81.70,382.52 L82.50,383.15 L83.30,383.00 L84.10,382.60 L84.90,382.33 L85.70,382.86 L86.50,382.40 L87.30,382.44 L88.10,381.93 L88.90,382.52 L89.70,382.21 L90.50,382.38 L91.30,382.23 L92.10,381.80 L92.90,381.54 L93.70,381.52 L94.50,381.26 L95.30,381.16 L96.10,381.01 L96.90,381.14 L97.70,381.33 L98.50,380.71 L99.30,381.24 L100.10,381.00 L100.90,380.69 L101.70,380.51 L102.50,380.81 L103.30,380.34 L104.10,380.03 L104.90,380.02 L105.70,380.06 L106.50,379.32 L107.30,379.99 L108.10,379.40 L108.96,378.66 L109.81,379.00 L110.67,378.77 L111.53,377.71 L112.39,378.09 L113.24,377.39 L114.10,377.20 L115.13,376.24 L116.17,374.69 L117.20,374.10 L119.20,368.10 L120.60,363.10 L121.80,368.10 L123.20,378.20 L125.20,379.80 L128.00,380.00 L132.00,378.20 L138.00,375.20 L144.00,372.10 L148.00,371.10 L150.00,372.50 L152.40,376.20 L154.50,378.20 L156.10,377.20 L159.10,373.10 L162.10,368.10 L164.10,363.70 L164.70,358.10 L165.70,363.70 L168.10,364.10 L171.10,366.10 L174.10,369.10 L176.10,370.50 L178.10,367.10 L180.10,362.10 L182.10,358.10 L185.10,358.50 L234.00,358.30 L235.00,360.50 L236.00,358.30 L338.10,358.10 L340.10,364.10 L342.10,376.20 L343.70,394.20 L345.10,388.20 L347.10,383.20 L349.70,380.60 L351.70,383.20 L353.10,386.20 L354.50,380.20 L356.10,360.10 L356.70,358.10 L357.70,364.10 L359.10,380.20 L360.50,394.50" fill="none" stroke="#0000ff" stroke-width="1.4" stroke-linejoin="round"/>
<line x1="43.7" y1="357.4" x2="405.6" y2="357.4" stroke="#ff0000" stroke-width="1.0" stroke-dasharray="3.6,3.45"/>
<rect x="180.5" y="315" width="220.8" height="11" fill="#fff" stroke="#a0a0a0" stroke-width="0.9"/>
<line x1="182.5" y1="320.5" x2="199.7" y2="320.5" stroke="#0000ff" stroke-width="1.4"/>
<text x="201.8" y="324" font-size="8.55" font-weight="bold" text-anchor="start" fill="#1a1a1a" textLength="78.9" lengthAdjust="spacingAndGlyphs">The proposed method</text>
<line x1="284.3" y1="320.5" x2="302.6" y2="320.5" stroke="#00ff00" stroke-width="1.5"/>
<text x="304.8" y="324" font-size="8.5" font-weight="bold" text-anchor="start" fill="#1a1a1a" textLength="93.6" lengthAdjust="spacingAndGlyphs">Constant feedrate 10mm/s</text>
<text x="90.6" y="302.6" font-size="9.1" font-weight="normal" text-anchor="start" fill="#1a1a1a" textLength="85.4" lengthAdjust="spacing" stroke="#1a1a1a" stroke-width="0.22">Cutter tip contour error</text>
<line x1="180.1" y1="299.7" x2="218" y2="308.8" stroke="#000" stroke-width="1"/>
<polygon points="223,310.2 216,310.5 217.5,305.5" fill="#000"/>
<text x="7" y="437.6" font-size="16" font-weight="normal" text-anchor="start" fill="#1a1a1a" >f</text>
<rect x="40.6" y="437.7" width="366.79999999999995" height="82.90000000000003" fill="none" stroke="#a0a0a0" stroke-width="1"/>
<line x1="95.55000000000001" y1="520.6" x2="95.55000000000001" y2="517.0" stroke="#7a7a7a" stroke-width="0.8"/>
<line x1="95.55000000000001" y1="437.7" x2="95.55000000000001" y2="441.3" stroke="#7a7a7a" stroke-width="0.8"/>
<line x1="150.5" y1="520.6" x2="150.5" y2="517.0" stroke="#7a7a7a" stroke-width="0.8"/>
<line x1="150.5" y1="437.7" x2="150.5" y2="441.3" stroke="#7a7a7a" stroke-width="0.8"/>
<line x1="205.45" y1="520.6" x2="205.45" y2="517.0" stroke="#7a7a7a" stroke-width="0.8"/>
<line x1="205.45" y1="437.7" x2="205.45" y2="441.3" stroke="#7a7a7a" stroke-width="0.8"/>
<line x1="260.40000000000003" y1="520.6" x2="260.40000000000003" y2="517.0" stroke="#7a7a7a" stroke-width="0.8"/>
<line x1="260.40000000000003" y1="437.7" x2="260.40000000000003" y2="441.3" stroke="#7a7a7a" stroke-width="0.8"/>
<line x1="315.35" y1="520.6" x2="315.35" y2="517.0" stroke="#7a7a7a" stroke-width="0.8"/>
<line x1="315.35" y1="437.7" x2="315.35" y2="441.3" stroke="#7a7a7a" stroke-width="0.8"/>
<line x1="370.3" y1="520.6" x2="370.3" y2="517.0" stroke="#7a7a7a" stroke-width="0.8"/>
<line x1="370.3" y1="437.7" x2="370.3" y2="441.3" stroke="#7a7a7a" stroke-width="0.8"/>
<line x1="40.6" y1="496.92" x2="44.2" y2="496.92" stroke="#7a7a7a" stroke-width="0.8"/>
<line x1="407.4" y1="496.92" x2="403.79999999999995" y2="496.92" stroke="#7a7a7a" stroke-width="0.8"/>
<line x1="40.6" y1="473.24" x2="44.2" y2="473.24" stroke="#7a7a7a" stroke-width="0.8"/>
<line x1="407.4" y1="473.24" x2="403.79999999999995" y2="473.24" stroke="#7a7a7a" stroke-width="0.8"/>
<line x1="40.6" y1="449.56000000000006" x2="44.2" y2="449.56000000000006" stroke="#7a7a7a" stroke-width="0.8"/>
<line x1="407.4" y1="449.56000000000006" x2="403.79999999999995" y2="449.56000000000006" stroke="#7a7a7a" stroke-width="0.8"/>
<text x="40.6" y="533.3" font-size="9.5" font-weight="bold" text-anchor="middle" fill="#1a1a1a" >0</text>
<text x="95.6" y="533.3" font-size="9.5" font-weight="bold" text-anchor="middle" fill="#1a1a1a" >5</text>
<text x="150.5" y="533.3" font-size="9.5" font-weight="bold" text-anchor="middle" fill="#1a1a1a" >10</text>
<text x="205.4" y="533.3" font-size="9.5" font-weight="bold" text-anchor="middle" fill="#1a1a1a" >15</text>
<text x="260.4" y="533.3" font-size="9.5" font-weight="bold" text-anchor="middle" fill="#1a1a1a" >20</text>
<text x="315.4" y="533.3" font-size="9.5" font-weight="bold" text-anchor="middle" fill="#1a1a1a" >25</text>
<text x="370.3" y="533.3" font-size="9.5" font-weight="bold" text-anchor="middle" fill="#1a1a1a" >30</text>
<text x="37.5" y="523.9" font-size="9.5" font-weight="bold" text-anchor="end" fill="#1a1a1a" >0</text>
<text x="37.5" y="500.2" font-size="9.5" font-weight="bold" text-anchor="end" fill="#1a1a1a" >2</text>
<text x="37.5" y="476.5" font-size="9.5" font-weight="bold" text-anchor="end" fill="#1a1a1a" >4</text>
<text x="37.5" y="452.9" font-size="9.5" font-weight="bold" text-anchor="end" fill="#1a1a1a" >6</text>
<text x="0" y="0" font-size="10" font-weight="bold" fill="#1a1a1a" text-anchor="middle" transform="translate(28.2,478.8) rotate(-90)">Error(rad)</text>
<text x="224.2" y="544" font-size="10" font-weight="bold" text-anchor="middle" fill="#1a1a1a" >time(s)</text>
<text x="41.6" y="435.8" font-size="9.5" font-weight="normal" text-anchor="start" fill="#1a1a1a" >×</text>
<text x="48.6" y="435.8" font-size="9.5" font-weight="bold" text-anchor="start" fill="#1a1a1a" >10</text>
<text x="58" y="431.3" font-size="6.2" font-weight="bold" text-anchor="start" fill="#1a1a1a" >-4</text>
<line x1="40.6" y1="485.2" x2="407.4" y2="485.2" stroke="#ff0000" stroke-width="1.15" stroke-dasharray="3.6,3.45"/>
<path d="M40.60,520.20 L41.00,510.20 L42.00,504.10 L43.60,503.10 L46.00,506.20 L48.40,511.20 L50.40,513.20 L53.00,509.20 L56.00,500.10 L57.00,495.45 L58.00,490.10 L59.00,485.99 L60.00,481.10 L61.03,478.08 L62.07,474.81 L63.10,472.10 L64.10,469.75 L65.10,468.80 L66.10,466.81 L67.10,465.10 L67.93,464.41 L68.77,462.95 L69.60,462.42 L70.43,460.83 L71.27,460.46 L72.10,459.10 L72.90,458.78 L73.70,457.80 L74.50,457.35 L75.30,456.92 L76.10,456.10 L76.93,455.05 L77.77,454.80 L78.60,454.42 L79.43,453.09 L80.27,453.05 L81.10,452.00 L81.90,451.74 L82.70,451.45 L83.50,450.36 L84.30,449.59 L85.10,449.60 L85.97,450.09 L86.83,450.23 L87.70,450.00 L90.10,455.00 L92.10,464.10 L94.10,478.10 L96.10,492.10 L98.50,502.10 L99.70,502.50 L102.10,495.10 L106.10,490.10 L110.10,488.10 L114.20,488.50 L118.20,490.10 L124.00,494.10 L128.00,499.10 L134.00,504.10 L140.00,506.20 L146.00,507.20 L154.10,506.80 L160.10,508.20 L166.10,512.20 L171.10,515.80 L173.20,516.50 L173.70,514.00 L174.20,517.20 L178.10,515.20 L184.10,511.80 L190.10,508.20 L196.10,504.10 L200.20,500.50 L203.20,502.10 L207.20,505.20 L210.20,499.10 L212.00,494.10 L215.00,489.10 L218.00,484.10 L222.00,483.10 L226.00,483.10 L232.00,485.70 L237.00,488.50 L241.10,491.10 L244.10,488.10 L247.10,482.50 L249.10,481.70 L251.10,485.10 L253.10,494.10 L255.10,499.10 L259.10,502.10 L262.10,503.30 L264.50,498.10 L266.10,503.10 L272.10,503.10 L282.10,503.70 L292.20,504.70 L300.00,505.40 L306.00,506.20 L312.00,506.60 L318.00,504.50 L324.00,501.70 L330.10,499.70 L336.10,498.50 L342.10,498.10 L348.10,499.10 L354.10,502.10 L360.10,507.20 L364.10,512.20 L368.10,518.20 L369.10,509.80 L370.10,520.20 L372.10,519.80 L373.00,519.60 L375.00,517.30 L377.50,516.30 L381.00,516.90 L385.00,518.10 L389.00,519.10 L392.00,518.60 L394.50,516.60 L396.10,512.10 L397.30,506.30 L398.30,510.10 L399.60,514.10 L401.10,514.60 L402.10,514.10 L402.90,513.10 L403.10,520.60" fill="none" stroke="#00ff00" stroke-width="1.5" stroke-linejoin="round"/>
<path d="M40.60,506.20 L41.60,492.10 L42.60,488.10 L43.60,492.10 L44.60,498.10 L45.60,504.10 L46.40,496.10 L47.40,486.10 L48.40,485.70 L50.00,487.10 L51.00,487.59 L52.00,488.50 L52.80,488.20 L53.60,488.92 L54.40,488.35 L55.20,489.02 L56.00,489.10 L56.72,488.94 L57.44,488.57 L58.15,489.11 L58.87,488.54 L59.59,489.02 L60.31,488.58 L61.02,488.61 L61.74,489.01 L62.46,489.49 L63.18,488.65 L63.90,488.77 L64.61,489.25 L65.33,489.64 L66.05,489.19 L66.77,488.98 L67.49,489.67 L68.20,488.56 L68.92,489.53 L69.64,488.85 L70.36,488.67 L71.07,488.64 L71.79,488.87 L72.51,489.48 L73.23,488.72 L73.95,489.20 L74.66,489.27 L75.38,488.95 L76.10,489.10 L76.81,489.18 L77.53,488.62 L78.24,488.64 L78.96,488.83 L79.67,489.42 L80.39,489.14 L81.10,489.03 L81.81,489.37 L82.53,489.24 L83.24,489.07 L83.96,489.69 L84.67,489.60 L85.39,489.07 L86.10,489.49 L86.81,489.45 L87.53,489.89 L88.24,489.74 L88.96,489.23 L89.67,490.08 L90.39,489.07 L91.10,489.45 L91.81,489.88 L92.53,489.18 L93.24,489.60 L93.96,489.08 L94.67,489.86 L95.39,490.00 L96.10,489.70 L96.80,489.83 L97.50,490.24 L98.20,489.61 L98.90,490.11 L99.60,490.03 L100.30,490.06 L101.00,489.95 L101.70,490.46 L102.40,490.62 L103.10,490.10 L103.80,490.38 L104.50,489.69 L105.20,490.51 L105.90,490.49 L106.60,490.94 L107.30,490.78 L108.00,490.18 L108.70,490.35 L109.40,490.73 L110.10,490.00 L110.80,490.57 L111.50,490.26 L112.20,490.70 L112.91,490.44 L113.63,490.57 L114.34,491.62 L115.06,491.06 L115.77,491.40 L116.49,491.77 L117.20,492.10 L117.80,496.10 L118.40,491.00 L119.30,490.00 L120.20,488.10 L120.96,487.40 L121.72,487.64 L122.48,487.56 L123.24,487.76 L124.00,487.10 L124.73,487.57 L125.45,487.72 L126.18,487.11 L126.91,487.36 L127.64,487.39 L128.36,488.11 L129.09,488.29 L129.82,487.41 L130.55,487.53 L131.27,487.69 L132.00,488.10 L132.73,487.82 L133.45,488.15 L134.18,488.32 L134.91,487.96 L135.64,487.69 L136.36,488.22 L137.09,488.20 L137.82,488.47 L138.55,488.97 L139.27,488.69 L140.00,488.50 L140.75,488.67 L141.50,488.94 L142.25,489.16 L143.00,488.56 L143.75,489.73 L144.50,489.74 L145.25,490.00 L146.00,489.70 L146.75,490.41 L147.50,490.27 L148.25,490.63 L149.00,491.10 L149.83,491.29 L150.67,492.59 L151.50,493.10 L152.37,491.91 L153.23,491.25 L154.10,491.10 L154.85,490.25 L155.60,489.69 L156.35,489.41 L157.10,489.10 L158.10,489.06 L159.10,490.10 L161.10,496.10 L164.10,506.20 L168.10,513.20 L171.10,509.20 L175.10,496.10 L178.10,489.70 L180.50,490.10 L182.50,496.10 L185.10,504.10 L188.10,507.80 L192.10,505.20 L197.10,499.10 L202.20,493.10 L206.20,490.50 L207.03,490.17 L207.86,490.85 L208.69,489.95 L209.51,490.48 L210.34,489.80 L211.17,489.90 L212.00,490.10 L212.80,491.08 L213.60,490.77 L214.40,491.68 L215.20,491.98 L216.00,492.50 L216.86,492.97 L217.71,493.52 L218.57,493.74 L219.43,494.89 L220.29,494.66 L221.14,495.32 L222.00,496.10 L222.86,496.13 L223.71,496.90 L224.57,497.55 L225.43,498.56 L226.29,498.55 L227.14,498.80 L228.00,499.70 L228.86,499.80 L229.71,500.88 L230.57,500.29 L231.43,501.19 L232.29,501.29 L233.14,501.92 L234.00,502.10 L234.87,501.65 L235.74,501.72 L236.61,501.24 L237.49,501.11 L238.36,501.07 L239.23,500.47 L240.10,500.10 L240.90,499.54 L241.70,499.26 L242.50,499.95 L243.30,499.29 L244.10,499.10 L244.93,498.63 L245.77,499.21 L246.60,498.68 L247.43,498.66 L248.27,498.65 L249.10,498.10 L250.10,498.89 L251.10,499.96 L252.10,501.10 L253.10,502.84 L254.10,503.47 L255.10,505.20 L256.10,505.93 L257.10,505.73 L258.10,506.60 L259.10,506.32 L260.10,505.87 L261.10,505.20 L262.10,504.90 L263.10,503.70 L263.70,493.10 L264.70,503.70 L265.55,503.89 L266.40,503.40 L267.25,502.95 L268.10,503.10 L268.96,502.46 L269.81,502.56 L270.67,502.25 L271.53,501.53 L272.39,502.07 L273.24,501.39 L274.10,501.10 L274.96,501.02 L275.81,500.25 L276.67,499.99 L277.53,499.47 L278.39,499.51 L279.24,499.15 L280.10,499.10 L280.96,498.88 L281.81,498.69 L282.67,499.01 L283.53,498.92 L284.39,498.06 L285.24,498.14 L286.10,498.10 L286.97,497.68 L287.84,498.09 L288.71,498.32 L289.59,497.46 L290.46,497.94 L291.33,497.39 L292.20,497.50 L293.07,496.92 L293.93,497.59 L294.80,497.08 L295.67,496.81 L296.53,496.99 L297.40,496.70 L298.27,496.79 L299.13,496.73 L300.00,496.70 L300.80,496.18 L301.60,495.91 L302.40,495.17 L303.20,494.54 L304.00,494.50 L304.80,494.01 L305.60,493.95 L306.40,494.28 L307.20,494.04 L308.00,494.10 L308.80,494.51 L309.60,494.30 L310.40,494.61 L311.20,494.98 L312.00,494.16 L312.80,494.22 L313.60,494.44 L314.40,494.79 L315.20,495.07 L316.00,495.10 L316.80,495.28 L317.60,494.83 L318.40,495.38 L319.20,494.36 L320.00,495.14 L320.80,494.45 L321.60,495.06 L322.40,494.15 L323.20,495.03 L324.00,494.50 L324.87,494.65 L325.74,494.76 L326.61,494.24 L327.49,493.72 L328.36,494.40 L329.23,493.76 L330.10,493.70 L330.90,493.04 L331.70,493.33 L332.50,492.98 L333.30,492.71 L334.10,492.50 L335.10,491.69 L336.10,491.19 L337.10,491.10 L338.10,493.10 L340.10,502.10 L342.10,512.20 L343.10,519.20 L344.50,514.20 L346.10,511.20 L348.10,515.20 L350.10,518.20 L352.50,514.20 L354.10,512.20 L355.70,516.20 L357.10,509.20 L358.50,510.20 L359.70,508.20 L361.10,510.20 L361.70,520.20" fill="none" stroke="#0000ff" stroke-width="1.4" stroke-linejoin="round"/>
<rect x="178.1" y="442.5" width="224.5" height="11.5" fill="#fff" stroke="#a0a0a0" stroke-width="0.9"/>
<line x1="180.6" y1="448.4" x2="198.1" y2="448.4" stroke="#0000ff" stroke-width="1.4"/>
<text x="201.8" y="452" font-size="8.55" font-weight="bold" text-anchor="start" fill="#1a1a1a" textLength="78.3" lengthAdjust="spacingAndGlyphs">The proposed method</text>
<line x1="284" y1="448.4" x2="302" y2="448.4" stroke="#00ff00" stroke-width="1.5"/>
<text x="304.8" y="452" font-size="8.5" font-weight="bold" text-anchor="start" fill="#1a1a1a" textLength="93.4" lengthAdjust="spacingAndGlyphs">Constant feedrate 10mm/s</text>
<text x="82.4" y="429.4" font-size="9.05" font-weight="normal" text-anchor="start" fill="#1a1a1a" textLength="115" lengthAdjust="spacing" stroke="#1a1a1a" stroke-width="0.22">Cutter orientation contour error</text>
<line x1="202.4" y1="427.6" x2="236" y2="435" stroke="#000" stroke-width="1"/>
<polygon points="241.1,436.2 234,436.8 235.5,431.8" fill="#000"/>
</svg></body></html>
